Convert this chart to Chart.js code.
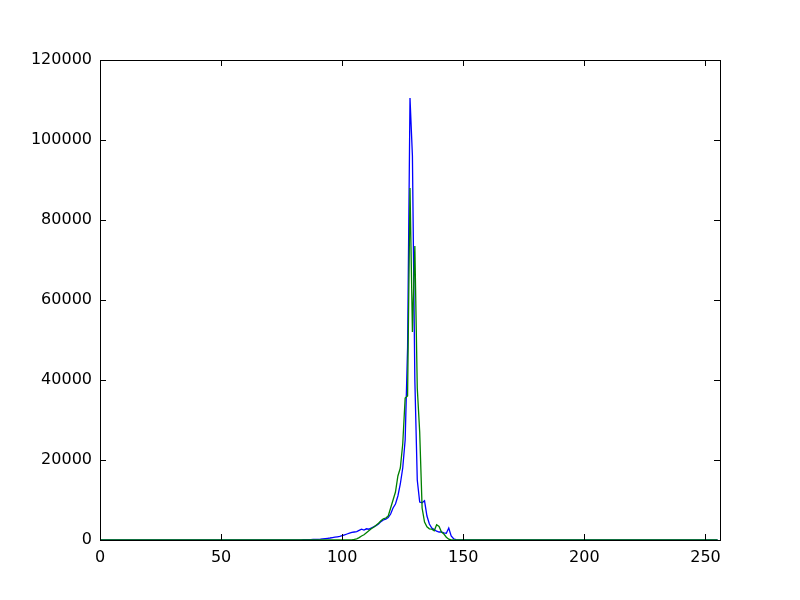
<!DOCTYPE html>
<html>
<head>
<meta charset="utf-8">
<script src="https://cdn.jsdelivr.net/npm/chart.js@4/dist/chart.umd.min.js"></script>
<style>
  html, body { margin: 0; padding: 0; background: #fff; }
  #chart { display: block; }
</style>
</head>
<body>
<canvas id="chart" width="800" height="600"></canvas>
<script>
// histogram values per bin (0..255)
const blueVals = [
  // 0-79
  0,0,0,0,0,0,0,0,0,0, 0,0,0,0,0,0,0,0,0,0,
  0,0,0,0,0,0,0,0,0,0, 0,0,0,0,0,0,0,0,0,0,
  0,0,0,0,0,0,0,0,0,0, 0,0,0,0,0,0,0,0,0,0,
  0,0,0,0,0,0,0,0,0,0, 0,0,0,0,0,0,0,0,0,0,
  // 80-99
  20,30,40,40,60,70,80,100,120,150, 180,220,280,350,420,500,600,700,800,900,
  // 100-119
  1100,1300,1500,1700,1900,2000,2100,2400,2700,2500, 2800,2700,3000,3300,3600,4000,4600,5000,5200,5600,
  // 120-139
  6500,8000,9000,11000,14000,18000,25000,48000,110500,96000, 40000,15000,9500,9300,9800,6000,4000,3000,2600,2200,
  // 140-159
  2000,2000,1800,1700,3000,1000,300,100,50,20, 0,0,0,0,0,0,0,0,0,0,
  // 160-255
  0,0,0,0,0,0,0,0,0,0, 0,0,0,0,0,0,0,0,0,0,
  0,0,0,0,0,0,0,0,0,0, 0,0,0,0,0,0,0,0,0,0,
  0,0,0,0,0,0,0,0,0,0, 0,0,0,0,0,0,0,0,0,0,
  0,0,0,0,0,0,0,0,0,0, 0,0,0,0,0,0,0,0,0,0,
  0,0,0,0,0,0,0,0,0,0, 0,0,0,0,0,0
];

const greenVals = [
  // 0-99
  0,0,0,0,0,0,0,0,0,0, 0,0,0,0,0,0,0,0,0,0,
  0,0,0,0,0,0,0,0,0,0, 0,0,0,0,0,0,0,0,0,0,
  0,0,0,0,0,0,0,0,0,0, 0,0,0,0,0,0,0,0,0,0,
  0,0,0,0,0,0,0,0,0,0, 0,0,0,0,0,0,0,0,0,0,
  0,0,0,0,0,0,0,0,0,0, 0,0,0,0,0,0,0,0,0,0,
  // 100-119
  0,0,0,0,50,150,300,600,1000,1300, 1800,2300,2800,3200,3700,4200,4800,5300,5500,6000,
  // 120-139
  8000,10000,12000,16000,18000,24000,35500,36000,88000,52000, 73500,38000,27000,8000,4500,3300,2800,2700,2300,3800,
  // 140-159
  3400,2000,1500,700,200,50,0,0,0,0, 0,0,0,0,0,0,0,0,0,0,
  // 160-255
  0,0,0,0,0,0,0,0,0,0, 0,0,0,0,0,0,0,0,0,0,
  0,0,0,0,0,0,0,0,0,0, 0,0,0,0,0,0,0,0,0,0,
  0,0,0,0,0,0,0,0,0,0, 0,0,0,0,0,0,0,0,0,0,
  0,0,0,0,0,0,0,0,0,0, 0,0,0,0,0,0,0,0,0,0,
  0,0,0,0,0,0,0,0,0,0, 0,0,0,0,0,0
];

const xTicks = [0, 50, 100, 150, 200, 250];
const yTicks = [0, 20000, 40000, 60000, 80000, 100000, 120000];

const FONT = { family: 'DejaVu Sans', size: 16 };
const TICK_LEN = 6;

function toPoints(vals) {
  return vals.map((v, i) => ({ x: i, y: v }));
}

// frame + inward ticks on all four sides, matplotlib classic look
const framePlugin = {
  id: 'frame',
  afterDraw(c) {
    const ctx = c.ctx;
    const a = c.chartArea;
    const xs = c.scales.x, ys = c.scales.y;
    ctx.save();
    ctx.strokeStyle = '#000';
    ctx.lineWidth = 1;
    ctx.beginPath();
    xTicks.forEach(t => {
      const px = Math.round(xs.getPixelForValue(t)) + 0.5;
      ctx.moveTo(px, a.bottom); ctx.lineTo(px, a.bottom - TICK_LEN);
      ctx.moveTo(px, a.top); ctx.lineTo(px, a.top + TICK_LEN);
    });
    yTicks.forEach(t => {
      const py = Math.round(ys.getPixelForValue(t)) + 0.5;
      ctx.moveTo(a.left, py); ctx.lineTo(a.left + TICK_LEN, py);
      ctx.moveTo(a.right, py); ctx.lineTo(a.right - TICK_LEN, py);
    });
    ctx.stroke();
    ctx.strokeRect(Math.round(a.left) + 0.5, Math.round(a.top) + 0.5,
                   Math.round(a.right - a.left), Math.round(a.bottom - a.top));
    ctx.restore();
  }
};

new Chart(document.getElementById('chart').getContext('2d'), {
  type: 'line',
  data: {
    datasets: [
      {
        label: 'b',
        data: toPoints(blueVals),
        borderColor: '#0000ff',
        borderWidth: 1.3,
        pointRadius: 0,
        fill: false,
        order: 1
      },
      {
        label: 'g',
        data: toPoints(greenVals),
        borderColor: '#008000',
        borderWidth: 1.3,
        pointRadius: 0,
        fill: false,
        order: 0 // green on top, as in the picture
      }
    ]
  },
  options: {
    responsive: false,
    animation: false,
    layout: { padding: { left: 0, right: 80, top: 60, bottom: 0 } },
    plugins: { legend: { display: false }, tooltip: { enabled: false } },
    scales: {
      x: {
        type: 'linear',
        min: 0,
        max: 256,
        grid: { display: false },
        border: { display: false },
        afterBuildTicks: s => { s.ticks = xTicks.map(v => ({ value: v })); },
        afterFit: s => { s.height = 60; },
        ticks: { font: FONT, color: '#000', padding: 0, maxRotation: 0, callback: v => String(v) }
      },
      y: {
        min: 0,
        max: 120000,
        grid: { display: false },
        border: { display: false },
        afterBuildTicks: s => { s.ticks = yTicks.map(v => ({ value: v })); },
        afterFit: s => { s.width = 100; },
        ticks: { font: FONT, color: '#000', padding: 0, callback: v => String(v) }
      }
    }
  },
  plugins: [framePlugin]
});
</script>
</body>
</html>
